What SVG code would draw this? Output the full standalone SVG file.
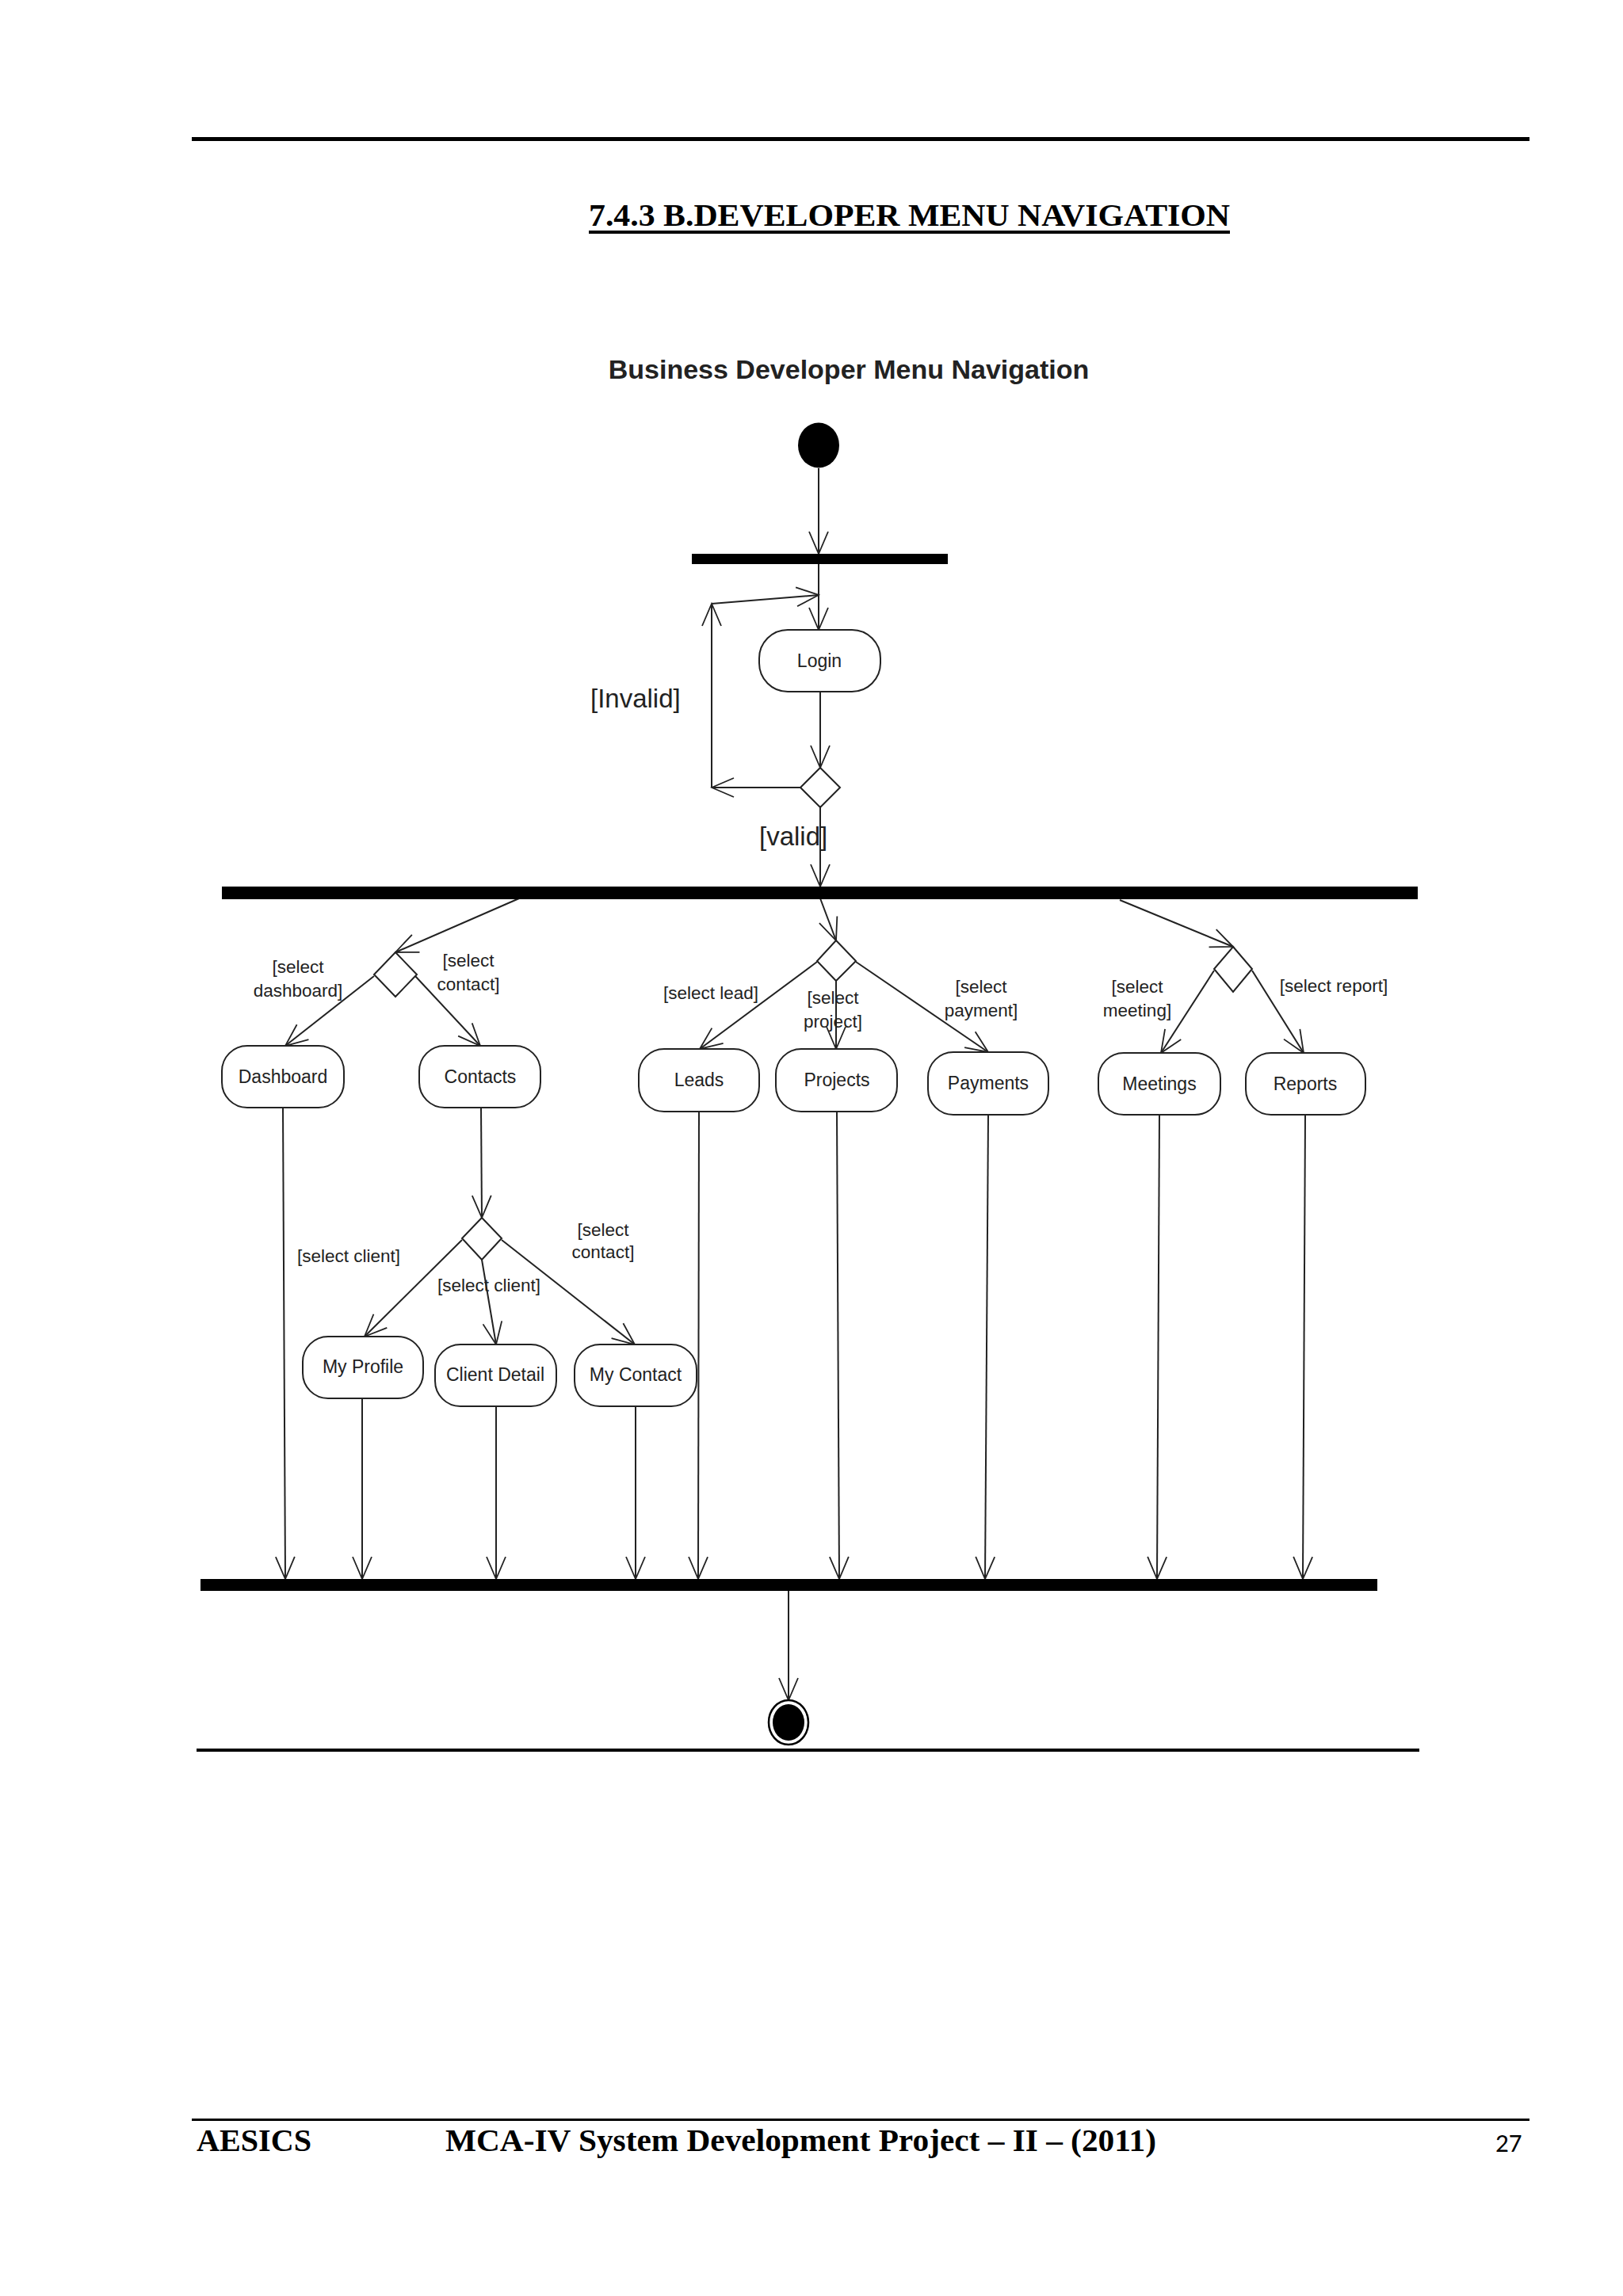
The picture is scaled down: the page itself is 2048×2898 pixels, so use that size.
<svg xmlns="http://www.w3.org/2000/svg" width="2048" height="2898" viewBox="0 0 2048 2898">
<style>
.page{font-family:"Liberation Serif","Times New Roman",serif;font-weight:bold;fill:#000}
.ttl{font-family:"Liberation Sans",Arial,sans-serif;font-weight:bold;font-size:34px;fill:#222}
.lbl{font-family:"Liberation Sans",Arial,sans-serif;font-size:23px;fill:#222;text-anchor:middle}
.grd{font-family:"Liberation Sans",Arial,sans-serif;font-size:22.5px;fill:#222}
.big{font-family:"Liberation Sans",Arial,sans-serif;font-size:33px;fill:#222}
.node{fill:#fff;stroke:#222;stroke-width:2}
.bar{fill:#000}
.edge{fill:none;stroke:#222;stroke-width:2;marker-end:url(#arr)}
.plain{fill:none;stroke:#222;stroke-width:2}
</style>
<defs>
<marker id="arr" markerUnits="userSpaceOnUse" viewBox="-32 -16 34 32" markerWidth="34" markerHeight="32" refX="0" refY="0" orient="auto">
<path d="M-28,-12 L0,0 L-28,12" fill="none" stroke="#222" stroke-width="1.8"/>
</marker>
</defs>
<rect x="0" y="0" width="2048" height="2898" fill="#fff"/>

<g id="page-header">
<rect x="242" y="173" width="1688" height="5" fill="#000"/>
<text class="page" x="743" y="285" font-size="41" textLength="809" lengthAdjust="spacingAndGlyphs">7.4.3 B.DEVELOPER MENU NAVIGATION</text>
<rect x="743" y="291" width="809" height="4" fill="#000"/>
</g>

<g id="diagram-title">
<text class="ttl" x="1071" y="478" text-anchor="middle">Business Developer Menu Navigation</text>
</g>

<g id="connectors">
<line class="edge" x1="1033" y1="591" x2="1033" y2="699"/>
<line class="edge" x1="1033" y1="712" x2="1033" y2="795"/>
<line class="plain" x1="1035" y1="873" x2="1035" y2="969" marker-end="url(#arr)"/>
<line class="edge" x1="1010" y1="994" x2="898" y2="994"/>
<line class="edge" x1="898" y1="994" x2="898" y2="762"/>
<line class="edge" x1="898" y1="762" x2="1033" y2="751"/>
<line class="edge" x1="1035" y1="1019" x2="1035" y2="1119"/>

<line class="edge" x1="655" y1="1134" x2="499" y2="1202"/>
<line class="edge" x1="1035" y1="1134" x2="1055" y2="1187"/>
<line class="edge" x1="1413" y1="1136" x2="1556" y2="1195"/>

<line class="edge" x1="472" y1="1232" x2="360" y2="1320"/>
<line class="edge" x1="524" y1="1232" x2="606" y2="1320"/>
<line class="edge" x1="1031" y1="1214" x2="883" y2="1324"/>
<line class="edge" x1="1055" y1="1238" x2="1055" y2="1324"/>
<line class="edge" x1="1080" y1="1214" x2="1247" y2="1328"/>
<line class="edge" x1="1532" y1="1225" x2="1465" y2="1329"/>
<line class="edge" x1="1580" y1="1225" x2="1645" y2="1329"/>

<line class="edge" x1="607" y1="1398" x2="608" y2="1537"/>
<line class="edge" x1="583" y1="1565" x2="460" y2="1687"/>
<line class="edge" x1="608" y1="1590" x2="626" y2="1697"/>
<line class="edge" x1="633" y1="1565" x2="801" y2="1697"/>

<line class="edge" x1="357" y1="1398" x2="360" y2="1993"/>
<line class="edge" x1="457" y1="1765" x2="457" y2="1993"/>
<line class="edge" x1="626" y1="1775" x2="626" y2="1993"/>
<line class="edge" x1="802" y1="1775" x2="802" y2="1993"/>
<line class="edge" x1="882" y1="1403" x2="881" y2="1993"/>
<line class="edge" x1="1056" y1="1403" x2="1059" y2="1993"/>
<line class="edge" x1="1247" y1="1407" x2="1243" y2="1993"/>
<line class="edge" x1="1463" y1="1407" x2="1460" y2="1993"/>
<line class="edge" x1="1647" y1="1407" x2="1644" y2="1993"/>

<line class="edge" x1="995" y1="2008" x2="995" y2="2146"/>
</g>

<g id="guards">
<text class="big" x="745" y="893">[Invalid]</text>
<text class="big" x="958" y="1067">[valid]</text>
<text class="grd" x="376" y="1228" text-anchor="middle">[select</text>
<text class="grd" x="376" y="1258" text-anchor="middle">dashboard]</text>
<text class="grd" x="591" y="1220" text-anchor="middle">[select</text>
<text class="grd" x="591" y="1250" text-anchor="middle">contact]</text>
<text class="grd" x="897" y="1261" text-anchor="middle">[select lead]</text>
<text class="grd" x="1051" y="1267" text-anchor="middle">[select</text>
<text class="grd" x="1051" y="1297" text-anchor="middle">project]</text>
<text class="grd" x="1238" y="1253" text-anchor="middle">[select</text>
<text class="grd" x="1238" y="1283" text-anchor="middle">payment]</text>
<text class="grd" x="1435" y="1253" text-anchor="middle">[select</text>
<text class="grd" x="1435" y="1283" text-anchor="middle">meeting]</text>
<text class="grd" x="1683" y="1252" text-anchor="middle">[select report]</text>
<text class="grd" x="440" y="1593" text-anchor="middle">[select client]</text>
<text class="grd" x="617" y="1630" text-anchor="middle">[select client]</text>
<text class="grd" x="761" y="1560" text-anchor="middle">[select</text>
<text class="grd" x="761" y="1588" text-anchor="middle">contact]</text>
</g>

<g id="start"><ellipse cx="1033" cy="562" rx="26" ry="28.5" fill="#000"/></g>
<g id="fork-top"><rect class="bar" x="873" y="699" width="323" height="13"/></g>
<g id="node-login"><rect class="node" x="958" y="795" width="153" height="78" rx="36" ry="36"/><text class="lbl" x="1034" y="842">Login</text></g>
<g id="decision-login"><path class="node" d="M1035,969 L1060,994 L1035,1019 L1010,994 Z"/></g>
<g id="fork-main"><rect class="bar" x="280" y="1119" width="1509" height="16"/></g>

<g id="decision-left"><path class="node" d="M499,1202 L526,1230 L499,1258 L472,1230 Z"/></g>
<g id="decision-mid"><path class="node" d="M1055,1187 L1080,1213 L1055,1238 L1031,1213 Z"/></g>
<g id="decision-right"><path class="node" d="M1556,1195 L1580,1223 L1556,1252 L1532,1223 Z"/></g>

<g id="node-dashboard"><rect class="node" x="280" y="1320" width="154" height="78" rx="32" ry="32"/><text class="lbl" x="357" y="1367">Dashboard</text></g>
<g id="node-contacts"><rect class="node" x="529" y="1320" width="153" height="78" rx="32" ry="32"/><text class="lbl" x="606" y="1367">Contacts</text></g>
<g id="node-leads"><rect class="node" x="806" y="1324" width="152" height="79" rx="32" ry="32"/><text class="lbl" x="882" y="1371">Leads</text></g>
<g id="node-projects"><rect class="node" x="979" y="1324" width="153" height="79" rx="32" ry="32"/><text class="lbl" x="1056" y="1371">Projects</text></g>
<g id="node-payments"><rect class="node" x="1171" y="1328" width="152" height="79" rx="32" ry="32"/><text class="lbl" x="1247" y="1375">Payments</text></g>
<g id="node-meetings"><rect class="node" x="1386" y="1329" width="154" height="78" rx="32" ry="32"/><text class="lbl" x="1463" y="1376">Meetings</text></g>
<g id="node-reports"><rect class="node" x="1572" y="1329" width="151" height="78" rx="32" ry="32"/><text class="lbl" x="1647" y="1376">Reports</text></g>

<g id="decision-contacts"><path class="node" d="M608,1537 L633,1563 L608,1590 L583,1563 Z"/></g>
<g id="node-myprofile"><rect class="node" x="382" y="1687" width="152" height="78" rx="32" ry="32"/><text class="lbl" x="458" y="1733">My Profile</text></g>
<g id="node-clientdetail"><rect class="node" x="549" y="1697" width="153" height="78" rx="32" ry="32"/><text class="lbl" x="625" y="1743">Client Detail</text></g>
<g id="node-mycontact"><rect class="node" x="725" y="1697" width="154" height="78" rx="32" ry="32"/><text class="lbl" x="802" y="1743">My Contact</text></g>

<g id="join"><rect class="bar" x="253" y="1993" width="1485" height="15"/></g>
<g id="end"><ellipse cx="995" cy="2174" rx="25" ry="28" fill="#fff" stroke="#000" stroke-width="2.5"/><ellipse cx="995" cy="2174" rx="20" ry="23" fill="#000"/></g>

<g id="page-footer">
<rect x="248" y="2207" width="1543" height="4" fill="#000"/>
<rect x="242" y="2674" width="1688" height="3" fill="#000"/>
<text class="page" x="248" y="2715" font-size="40" textLength="145" lengthAdjust="spacingAndGlyphs">AESICS</text>
<text class="page" x="562" y="2715" font-size="40" textLength="897" lengthAdjust="spacingAndGlyphs">MCA-IV System Development Project – II – (2011)</text>
<text x="1887" y="2716" font-family="Carlito,'Liberation Sans',Arial,sans-serif" font-size="33">27</text>
</g>
</svg>
